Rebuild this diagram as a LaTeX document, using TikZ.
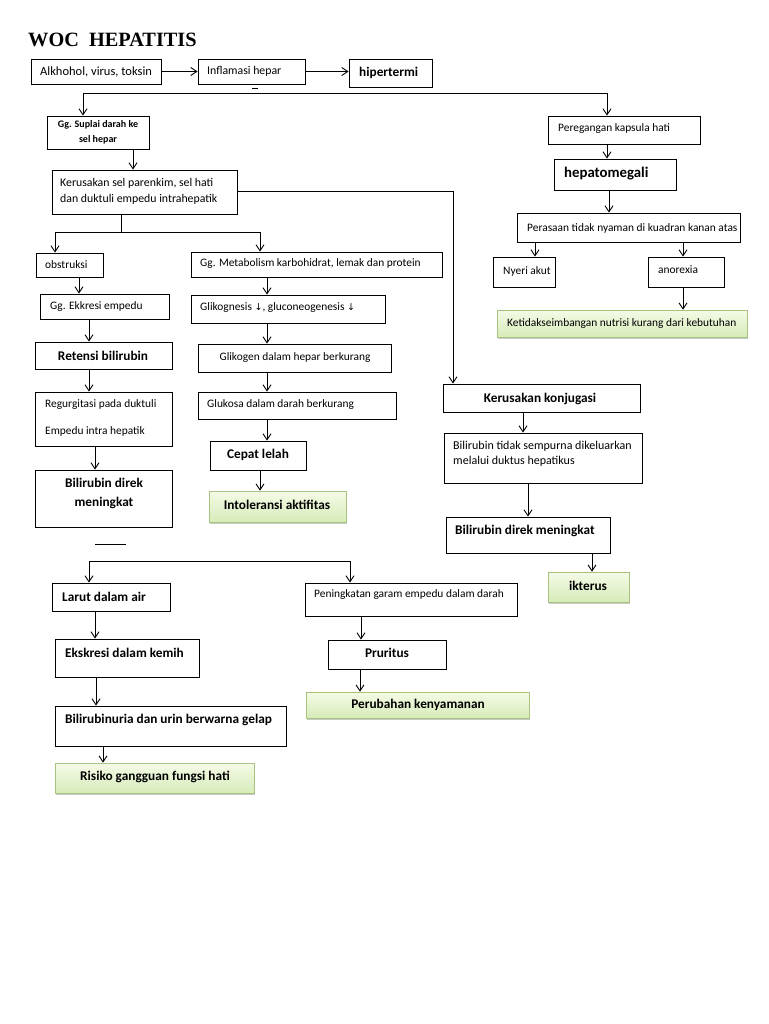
\documentclass[tikz,border=0pt]{standalone}
\usepackage{fontspec}
\setmainfont{Carlito}
\newfontfamily\calfont{Carlito}
\newfontfamily\titlefont{Liberation Serif}
\newfontfamily\dvfont{DejaVu Sans}
\usetikzlibrary{arrows.meta,shadows}
\definecolor{gtop}{HTML}{F5FBE6}
\definecolor{gbot}{HTML}{D6EBB9}
\definecolor{gborder}{HTML}{A9C27E}
\newcommand\regf{\calfont\fontsize{11.4}{14}\selectfont}
\newcommand\bigf{\calfont\bfseries\fontsize{13.3}{16}\selectfont}
\newcommand\tinyb{\calfont\bfseries\fontsize{10}{15}\selectfont}
\newcommand\dn{{\dvfont\fontsize{9.5}{10}\selectfont ↓}}
\tikzset{
  box/.style={draw=black, line width=0.9pt, fill=white, inner sep=0pt, rectangle},
  gbox/.style={draw=gborder, line width=0.6pt, top color=gtop, bottom color=gbot,
    drop shadow={shadow xshift=1pt, shadow yshift=-1.5pt, opacity=0.35, fill=black!60},
    path picture={\draw[black!85, line width=1.4pt] (path picture bounding box.south west) -- (path picture bounding box.north west);}},
  L/.style={anchor=west, inner sep=0pt, font=\regf, align=left},
  C/.style={anchor=center, inner sep=0pt, font=\regf, align=center},
  arr/.style={line width=0.9pt, -{Straight Barb[length=6pt,width=8pt,line width=0.9pt]}},
  ln/.style={line width=0.9pt},
}
% [boxstyle]{name}{x1}{y1}{x2}{y2}{textstyle}{tx,ty}{text}
\newcommand\bx[9][box]{%
  \node[#1, minimum width={(#5-#3)*1pt}, minimum height={(#6-#4)*1pt}] (#2) at ({(#3+#5)/2},{(#4+#6)/2}) {};
  \node[#7] (#2-t) at (#8) {#9};}
\newcommand\va[3]{\draw[arr] (#1.south -| #3,0) -- (#2.north -| #3,0);}
\begin{document}
\begin{tikzpicture}[x=1pt,y=-1pt]
\useasboundingbox[fill=white] (0,0) rectangle (768,1024);
\node[anchor=base west, inner sep=0pt, font=\titlefont\bfseries\fontsize{20.3}{22}\selectfont] (title) at (28,47) {WOC\ \ HEPATITIS};

% top row
\bx{alk}{31}{59}{161}{84}{L,font=\calfont\fontsize{12.5}{14}\selectfont}{40,72}{Alkhohol, virus, toksin}
\bx{infl}{198}{59}{305}{84}{L,font=\calfont\fontsize{11.8}{14}\selectfont}{207,71.5}{Inflamasi hepar}
\bx{hiper}{349}{59}{432}{87}{L,font=\bigf}{359,73}{hipertermi}
\draw[arr] (alk.east) -- (infl.west);
\draw[arr] (infl.east) -- (infl.east -| hiper.west);
\draw[ln] (252,88.5) -- (258,88.5);

% split
\coordinate (jL) at (83,93);
\coordinate (jR) at (607,93);

\bx{sup}{47}{116}{149}{149}{C,font=\tinyb}{98,132.5}{Gg. Suplai darah ke\\sel hepar}
\bx{ker}{52}{170}{237}{214}{L,font=\calfont\fontsize{11.8}{16}\selectfont}{60,191.5}{Kerusakan sel parenkim, sel hati\\dan duktuli empedu intrahepatik}
\bx{pereg}{548}{116}{700}{144}{L}{558,129}{Peregangan kapsula hati}
\draw[ln] (jL) -- (jR);
\draw[arr] (jL) -- (jL |- sup.north);
\draw[arr] (jR) -- (jR |- pereg.north);
\va{sup}{ker}{133}

% right branch
\bx{hepa}{554}{159}{676}{190}{L,font=\calfont\bfseries\fontsize{14.8}{16}\selectfont}{564,174}{hepatomegali}
\bx{peras}{517}{213}{740}{242}{L}{527,228}{Perasaan tidak nyaman di kuadran kanan atas}
\bx{nyeri}{493}{257}{555}{287}{L}{503,271}{Nyeri akut}
\bx{anor}{648}{257}{724}{287}{L}{658,270}{anorexia}
\bx[gbox]{ketid}{497}{310}{747}{337}{L}{507,324}{Ketidakseimbangan nutrisi kurang dari kebutuhan}
\va{pereg}{hepa}{607}
\va{hepa}{peras}{609}
\va{peras}{nyeri}{535}
\va{peras}{anor}{683}
\va{anor}{ketid}{683}

% left branch
\coordinate (kL) at (55,232);
\coordinate (kR) at (260,232);
\coordinate (kM) at (121,232);
\bx{obs}{36}{253}{103}{277}{L}{45,265}{obstruksi}
\bx{ekk}{40}{294}{169}{319}{L}{50,307}{Gg. Ekkresi empedu}
\bx{ret}{35}{342}{172}{369}{C,font=\bigf}{103,356}{Retensi bilirubin}
\bx{reg}{35}{392}{172}{446}{L,font=\calfont\fontsize{11.4}{27}\selectfont}{45,417.5}{Regurgitasi pada duktuli\\Empedu intra hepatik}
\bx{bdA}{35}{470}{172}{527}{C,font=\calfont\bfseries\fontsize{13.3}{19}\selectfont}{104,493.5}{Bilirubin direk\\meningkat}
\draw[ln] (ker.south -| kM) -- (kM);
\draw[ln] (kL) -- (kR);
\draw[arr] (kL) -- (kL |- obs.north);
\va{obs}{ekk}{79}
\va{ekk}{ret}{89}
\va{ret}{reg}{89}
\va{reg}{bdA}{95}

\bx{met}{191}{252}{442}{277}{L}{200,264}{Gg. Metabolism karbohidrat, lemak dan protein}
\bx{glin}{191}{295}{385}{323}{L}{200,308}{Glikognesis \dn, gluconeogenesis \dn}
\bx{glik}{198}{344}{391}{372}{C}{295,358}{Glikogen dalam hepar berkurang}
\bx{gluk}{198}{392}{396}{419}{L}{207,405}{Glukosa dalam darah berkurang}
\bx{cep}{210}{441}{306}{470}{C,font=\bigf}{258,455}{Cepat lelah}
\bx[gbox]{intol}{209}{491}{346}{522}{C,font=\bigf}{277,505}{Intoleransi aktifitas}
\draw[arr] (kR) -- (kR |- met.north);
\va{met}{glin}{267}
\va{glin}{glik}{267}
\va{glik}{gluk}{267}
\va{gluk}{cep}{267}
\va{cep}{intol}{260}

% middle-right branch
\coordinate (mR) at (453,191);
\bx{konj}{443}{384}{640}{412}{C,font=\bigf}{540,399}{Kerusakan konjugasi}
\bx{bts}{444}{433}{642}{483}{L,font=\calfont\fontsize{12}{15}\selectfont}{453,453.5}{Bilirubin tidak sempurna dikeluarkan\\melalui duktus hepatikus}
\bx{bdB}{446}{517}{610}{553}{L,font=\bigf}{455,531}{Bilirubin direk meningkat}
\bx[gbox]{ikt}{548}{572}{629}{602}{C,font=\bigf}{588,586}{ikterus}
\draw[ln] (ker.east |- mR) -- (mR);
\draw[arr] (mR) -- (mR |- konj.north);
\va{konj}{bts}{523}
\va{bts}{bdB}{528}
\va{bdB}{ikt}{592}

% bottom
\draw[ln] (95,544) -- (126,544);
\coordinate (bL) at (89,561);
\coordinate (bR) at (350,561);
\bx{larut}{52}{583}{170}{611}{L,font=\bigf}{62,597}{Larut dalam air}
\bx{eks}{55}{639}{199}{677}{L,font=\bigf}{65,653}{Ekskresi dalam kemih}
\bx{bilu}{55}{706}{286}{746}{L,font=\bigf}{65,720}{Bilirubinuria dan urin berwarna gelap}
\bx[gbox]{risk}{55}{763}{254}{793}{C,font=\bigf}{155,777}{Risiko gangguan fungsi hati}
\bx{pen}{305}{583}{517}{616}{L}{314,595}{Peningkatan garam empedu dalam darah}
\bx{prur}{328}{640}{446}{669}{C,font=\bigf}{387,653}{Pruritus}
\bx[gbox]{perub}{306}{692}{529}{718}{C,font=\bigf}{418,705}{Perubahan kenyamanan}
\draw[ln] (bL) -- (bR);
\draw[arr] (bL) -- (bL |- larut.north);
\draw[arr] (bR) -- (bR |- pen.north);
\va{larut}{eks}{95}
\va{eks}{bilu}{96}
\va{bilu}{risk}{103}
\va{pen}{prur}{361}
\va{prur}{perub}{360}
\end{tikzpicture}
\end{document}
